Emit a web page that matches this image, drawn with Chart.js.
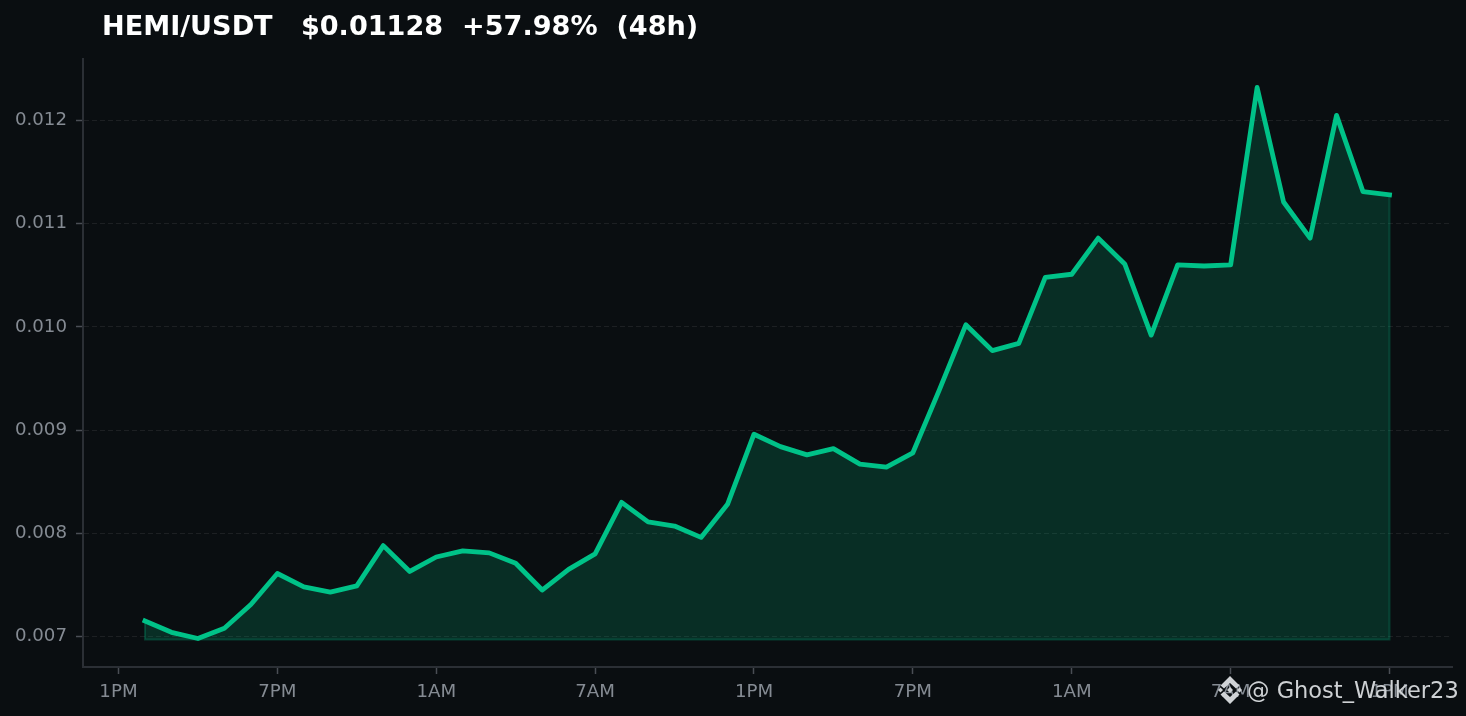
<!DOCTYPE html>
<html lang="en">
<head>
<meta charset="UTF-8">
<title>HEMI/USDT</title>
<script src="https://cdn.jsdelivr.net/npm/chart.js"></script>
<style>
    html, body { margin: 0; padding: 0; background: #0a0e11; overflow: hidden; }
    #wrap { position: relative; width: 1466px; height: 716px; }
    canvas { position: absolute; left: 0; top: 0; }
    #title {
        position: absolute; left: 102px; top: 10px; color: #fff; white-space: pre;
        font: bold 27.1px "DejaVu Sans", sans-serif; line-height: 32px;
    }
    #mark {
        position: absolute; left: 1217px; top: 675px; color: #ced1d4; white-space: pre;
        font: 22.5px "DejaVu Sans", sans-serif; line-height: 30px; display: flex; align-items: center;
    }
    #mark svg { margin-right: 4px; }
</style>
</head>
<body>
<div id="wrap">
    <canvas id="chart" width="1466" height="716"></canvas>
    <div id="title">HEMI/USDT   $0.01128  +57.98%  (48h)</div>
    <div id="mark"><svg width="26" height="28" viewBox="-13 -14 26 28"><g fill="#d0d3d6"><path d="M0 -14 L9.5 -4.5 L6 -1.5 L0 -7 L-6 -1.5 L-9.5 -4.5 Z"/><path d="M0 14 L9.5 4.5 L6 1.5 L0 7 L-6 1.5 L-9.5 4.5 Z"/><path d="M-9.5 -2.5 L-7 0 L-9.5 2.5 L-12 0 Z"/><path d="M9.5 -2.5 L12 0 L9.5 2.5 L7 0 Z"/><path d="M0 -3 L3 0 L0 3 L-3 0 Z"/></g></svg>@ Ghost_Walker23</div>
</div>

<script>
    // hours since the first 1PM tick
    const hours = [1,2,3,4,5,6,7,8,9,10,11,12,13,14,15,16,17,18,19,20,21,22,23,24,25,26,27,28,29,30,31,32,33,34,35,36,37,38,39,40,41,42,43,44,45,46,47,48];
    const prices = [
        0.00715,0.00704,0.00698,0.00708,0.00731,0.00761,0.00748,0.00743,0.00749,0.00788,0.00763,0.00777,
        0.00783,0.00781,0.00771,0.00745,0.00765,0.00780,0.00830,0.00811,0.00807,0.00796,0.00828,0.00896,
        0.00884,0.00876,0.00882,0.00867,0.00864,0.00878,0.00939,0.01002,0.00977,0.00984,0.01048,0.01051,
        0.01086,0.01061,0.00992,0.01060,0.01059,0.01060,0.01232,0.01121,0.01086,0.01205,0.01131,0.01128
    ];
    const tickHours = [0,6,12,18,24,30,36,42,48];
    const tickLabels = ['1PM','7PM','1AM','7AM','1PM','7PM','1AM','7AM','1PM'];
    const priceTicks = [0.007,0.008,0.009,0.010,0.011,0.012];
    const fillBase = 0.00697;

    const green = '#00c288';
    const tickText = '#858b93';
    const spine = '#2b2f35';
    const lineData = hours.map((h, i) => ({ x: h, y: prices[i] }));
    const first = hours[0], last = hours[hours.length - 1];
    const edgeData = [
        { x: first, y: prices[0] },
        { x: first, y: fillBase },
        { x: last, y: fillBase },
        { x: last, y: prices[prices.length - 1] }
    ];

    new Chart(document.getElementById('chart'), {
        type: 'line',
        data: {
            datasets: [
                {
                    data: edgeData,
                    borderColor: 'rgba(0,192,135,0.25)',
                    borderWidth: 2,
                    pointRadius: 0,
                    fill: false,
                    tension: 0
                },
                {
                    data: lineData,
                    borderColor: green,
                    borderWidth: 4.8,
                    borderCapStyle: 'square',
                    borderJoinStyle: 'round',
                    pointRadius: 0,
                    tension: 0,
                    fill: { value: fillBase },
                    backgroundColor: 'rgba(0,192,135,0.18)'
                }
            ]
        },
        options: {
            responsive: false,
            devicePixelRatio: 1,
            animation: false,
            layout: { padding: { left: 0, top: 59, right: 14, bottom: 0 } },
            plugins: { legend: { display: false }, tooltip: { enabled: false }, title: { display: false } },
            scales: {
                x: {
                    type: 'linear',
                    min: -1.34,
                    max: 50.36,
                    afterBuildTicks: axis => { axis.ticks = tickHours.map(v => ({ value: v })); },
                    afterFit: axis => { axis.height = 49; },
                    grid: { drawOnChartArea: false, tickLength: 7, tickColor: '#4a4e55', tickWidth: 1.5 },
                    border: { color: spine, width: 2 },
                    ticks: {
                        autoSkip: false,
                        maxRotation: 0,
                        color: tickText,
                        padding: 7,
                        font: { family: 'DejaVu Sans', size: 18.2 },
                        callback: value => tickLabels[tickHours.indexOf(value)]
                    }
                },
                y: {
                    min: 0.006704,
                    max: 0.012596,
                    afterBuildTicks: axis => { axis.ticks = priceTicks.map(v => ({ value: v })); },
                    afterFit: axis => { axis.width = 83; },
                    grid: { color: 'rgba(255,255,255,0.08)', lineWidth: 1, tickLength: 7, tickColor: '#4a4e55', tickWidth: 1.5 },
                    border: { color: spine, width: 2, dash: [5, 3] },
                    ticks: {
                        color: tickText,
                        padding: 9,
                        font: { family: 'DejaVu Sans', size: 18.2 },
                        callback: value => value.toFixed(3)
                    }
                }
            }
        }
    });
</script>
</body>
</html>
